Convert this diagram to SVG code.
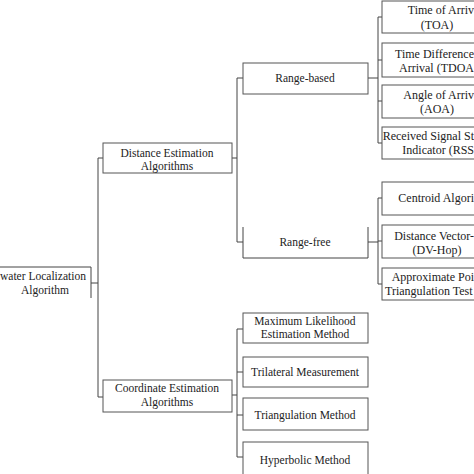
<svg xmlns="http://www.w3.org/2000/svg" width="474" height="474" viewBox="0 0 474 474">
<style>
.b{fill:#fff;stroke:#555;stroke-width:1}
.l{fill:none;stroke:#444;stroke-width:1}
text{font-family:"Liberation Serif","Times New Roman",serif;font-size:11.5px;fill:#222}
.r text{font-size:12px}
.m{text-anchor:middle}
.e{text-anchor:end}
</style>
<rect width="474" height="474" fill="#fff"/>
<g id="connectors" class="l">
<path d="M91 283H98M98 158V397M98 158H103M98 397H103"/>
<path d="M232 158H237M237 78V242M237 78H243M237 242H243"/>
<path d="M368 78H378M378 17V143M378 17H382M378 60H382M378 101H382M378 143H382"/>
<path d="M368 242H378M378 198V284M378 198H382M378 241H382M378 284H382"/>
<path d="M232 395H237M237 329V457M237 329H243M237 372H243M237 415H243M237 457H243"/>
</g>
<g id="root">
<path class="l" d="M-5 267H91V298"/>
<text x="0" y="280">water Localization</text>
<text class="m" x="45" y="294">Algorithm</text>
</g>
<g id="distance">
<rect class="b" x="103" y="143" width="129" height="30"/>
<text class="m" x="167" y="157">Distance Estimation</text>
<text class="m" x="167" y="170">Algorithms</text>
</g>
<g id="coordinate">
<rect class="b" x="103" y="380" width="129" height="32"/>
<text class="m" x="167" y="392">Coordinate Estimation</text>
<text class="m" x="167" y="406">Algorithms</text>
</g>
<g id="range-based">
<rect class="b" x="243" y="63" width="125" height="31"/>
<text class="m" x="305" y="82">Range-based</text>
</g>
<g id="range-free">
<path class="l" d="M243 227V258H368V227"/>
<text class="m" x="305" y="246">Range-free</text>
</g>
<g id="toa" class="r">
<rect class="b" x="382" y="1" width="100" height="32"/>
<text class="e" x="474" y="14">Time of Arriv</text>
<text class="m" x="437" y="29">(TOA)</text>
</g>
<g id="tdoa" class="r">
<rect class="b" x="382" y="43" width="100" height="34"/>
<text class="e" x="474" y="58">Time Difference</text>
<text class="e" x="474" y="72">Arrival (TDOA</text>
</g>
<g id="aoa" class="r">
<rect class="b" x="382" y="85" width="100" height="33"/>
<text class="e" x="474" y="99">Angle of Arriv</text>
<text class="m" x="437" y="113">(AOA)</text>
</g>
<g id="rssi" class="r">
<rect class="b" x="382" y="127" width="100" height="32"/>
<text class="e" x="474" y="140">Received Signal St</text>
<text class="e" x="474" y="154">Indicator (RSS</text>
</g>
<g id="centroid" class="r">
<rect class="b" x="382" y="182" width="100" height="33"/>
<text class="e" x="474" y="202">Centroid Algori</text>
</g>
<g id="dvhop" class="r">
<rect class="b" x="382" y="225" width="100" height="33"/>
<text class="e" x="474" y="240">Distance Vector-</text>
<text class="m" x="437" y="254">(DV-Hop)</text>
</g>
<g id="apit" class="r">
<rect class="b" x="382" y="268" width="100" height="32"/>
<text class="e" x="474" y="281">Approximate Poi</text>
<text x="385" y="295">Triangulation Test</text>
</g>
<g id="mle">
<rect class="b" x="243" y="313" width="125" height="30"/>
<text class="m" x="305" y="325">Maximum Likelihood</text>
<text class="m" x="305" y="338">Estimation Method</text>
</g>
<g id="trilateral">
<rect class="b" x="243" y="357" width="125" height="30"/>
<text class="m" x="305" y="376">Trilateral Measurement</text>
</g>
<g id="triangulation">
<rect class="b" x="243" y="398" width="125" height="32"/>
<text class="m" x="305" y="419">Triangulation Method</text>
</g>
<g id="hyperbolic">
<rect class="b" x="243" y="442" width="125" height="40"/>
<text class="m" x="305" y="464">Hyperbolic Method</text>
</g>
</svg>
